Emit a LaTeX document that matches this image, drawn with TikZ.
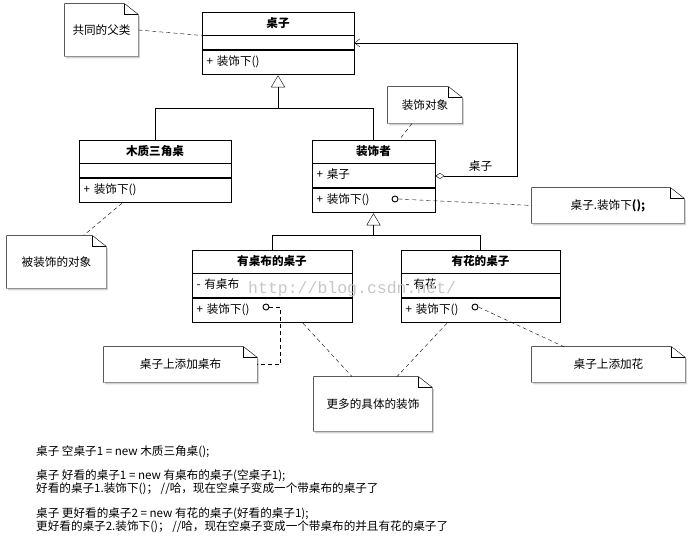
\documentclass[tikz,border=0pt]{standalone}
\usepackage{fontspec}
\setmainfont{Noto Sans CJK SC}
\newfontfamily\wmfont{Liberation Mono}
\usetikzlibrary{positioning,arrows.meta,backgrounds,shadows}

\tikzset{
  clshead/.style={draw, minimum width=#1, minimum height=23pt, inner sep=0pt, font=\bfseries},
  clsrow/.style={draw, text width=#1, align=left, inner xsep=4.5pt, inner ysep=0pt,
    text height=8.5pt, text depth=2.5pt, minimum height=24pt},
  port/.style={draw, circle, minimum size=6pt, inner sep=0pt, fill=white},
  notebox/.style={minimum width=#1, inner sep=0pt},
  noteline/.style={dash pattern=on 4pt off 3pt},
  inherit/.style={-{Triangle[open,length=12pt,width=14pt]}},
}

% note with folded corner, drawn behind its text
\newcommand{\dognote}[1]{%
  \begin{pgfonlayer}{background}
  \draw[fill=white, drop shadow={shadow xshift=1.5pt, shadow yshift=-2pt, opacity=0.35}]
    (#1.south west) -- (#1.north west) -- ([xshift=-14pt]#1.north east)
    -- ([yshift=-11pt]#1.north east) -- (#1.south east) -- cycle;
  \draw ([xshift=-14pt]#1.north east) -- ([xshift=-14pt,yshift=-11pt]#1.north east)
    -- ([yshift=-11pt]#1.north east);
  \end{pgfonlayer}}

\begin{document}
\fontsize{11.6}{11.7}\selectfont
\begin{tikzpicture}[x=1pt, y=-1pt, line width=0.9pt]
\useasboundingbox (0,0) rectangle (691,557);

% classes
\node[clshead=152] (zz) at (278,23.5) {桌子};
\node[clsrow=143, minimum height=14pt, below=0pt of zz] (zz-a) {};
\node[clsrow=143, below=0pt of zz-a] (zz-m) {+ 装饰下()};

\node[clshead=152] (mq) at (155,151.5) {木质三角桌};
\node[clsrow=143, minimum height=14pt, below=0pt of mq] (mq-a) {};
\node[clsrow=143, below=0pt of mq-a] (mq-m) {+ 装饰下()};

\node[clshead=123] (zsz) at (373.5,151.5) {装饰者};
\node[clsrow=114, below=0pt of zsz] (zsz-a) {+ 桌子};
\node[clsrow=114, below=0pt of zsz-a] (zsz-m) {+ 装饰下()};

\node[clshead=160] (zb) at (272,261.5) {有桌布的桌子};
\node[clsrow=151, below=0pt of zb] (zb-a) {- 有桌布};
\node[clsrow=151, below=0pt of zb-a] (zb-m) {+ 装饰下()};

\node[clshead=159] (zh) at (480.5,261.5) {有花的桌子};
\node[clsrow=150, below=0pt of zh] (zh-a) {- 有花};
\node[clsrow=150, below=0pt of zh-a] (zh-m) {+ 装饰下()};

\node[port] (zsz-p) at (395,199) {};
\node[port] (zb-p) at (266,307) {};
\node[port] (zh-p) at (475,307) {};

% notes
\node[notebox=73, minimum height=52pt] (n1) at (101.5,30) {共同的父类};
\node[notebox=74, minimum height=36pt] (n2) at (425,105) {装饰对象};
\node[notebox=152, minimum height=35pt] (n3) at (608,205.5) {桌子.装饰下\textbf{();}};
\node[notebox=99, minimum height=52pt] (n4) at (56.5,262) {被装饰的对象};
\node[notebox=153, minimum height=35pt] (n5) at (180.5,364.5) {桌子上添加桌布};
\node[notebox=118, minimum height=54pt] (n6) at (373,404) {更多的具体的装饰};
\node[notebox=153, minimum height=35pt] (n7) at (608.5,364.5) {桌子上添加花};
\foreach \n in {n1,n2,n3,n4,n5,n6,n7}
  \dognote{\n};

% inheritance
\coordinate (j1) at (278,108);
\draw[inherit] (mq.north) |- (j1) -- (zz-m.south);
\draw (zsz.north) |- (j1);
\coordinate (j2) at (373.5,235);
\draw[inherit] (zb.north) |- (j2) -- (zsz-m.south);
\draw (zh.north) |- (j2);

% aggregation
\draw[{Diamond[open,length=9pt,width=6pt]}-{Straight Barb[length=5pt,width=8pt]}]
  (zsz-a.east) -- ++(82,0) node[pos=.55, above] {桌子} |- (zz-a.east);

% note links
\draw[noteline] (n1.east) -- (zz.south west);
\draw[noteline] ([xshift=-13pt]n2.south) -- ([xshift=26pt]zsz.north);
\draw[noteline] (zsz-p.east) -- (n3.west);
\draw[noteline] ([xshift=-33pt]mq-m.south) -- ([xshift=27pt]n4.north);
\draw[noteline] (zb-p.east) -- ++(11,0) |- (n5.east);
\draw[noteline] ([xshift=31pt]zb-m.south) -- ([xshift=-21pt]n6.north);
\draw[noteline] ([xshift=-33.5pt]zh-m.south) -- ([xshift=24pt]n6.north);
\draw[noteline] (zh-p.east) -- ([xshift=-45pt]n7.north);

% code
\node[anchor=north west, align=left, inner sep=0pt] (code) at (36,445) {%
桌子 空桌子1 = new 木质三角桌();\\[11.7pt]
桌子 好看的桌子1 = new 有桌布的桌子(空桌子1);\\
好看的桌子1.装饰下()；\ //哈，现在空桌子变成一个带桌布的桌子了\\[11.7pt]
桌子 更好看的桌子2 = new 有花的桌子(好看的桌子1);\\
更好看的桌子2.装饰下()；\ //哈，现在空桌子变成一个带桌布的并且有花的桌子了};

\node[anchor=base west, inner sep=0pt, text=black!22, font=\wmfont\fontsize{16.5}{16.5}\selectfont]
  (wm) at (248,293) {http://blog.csdn.net/};
\end{tikzpicture}
\end{document}
